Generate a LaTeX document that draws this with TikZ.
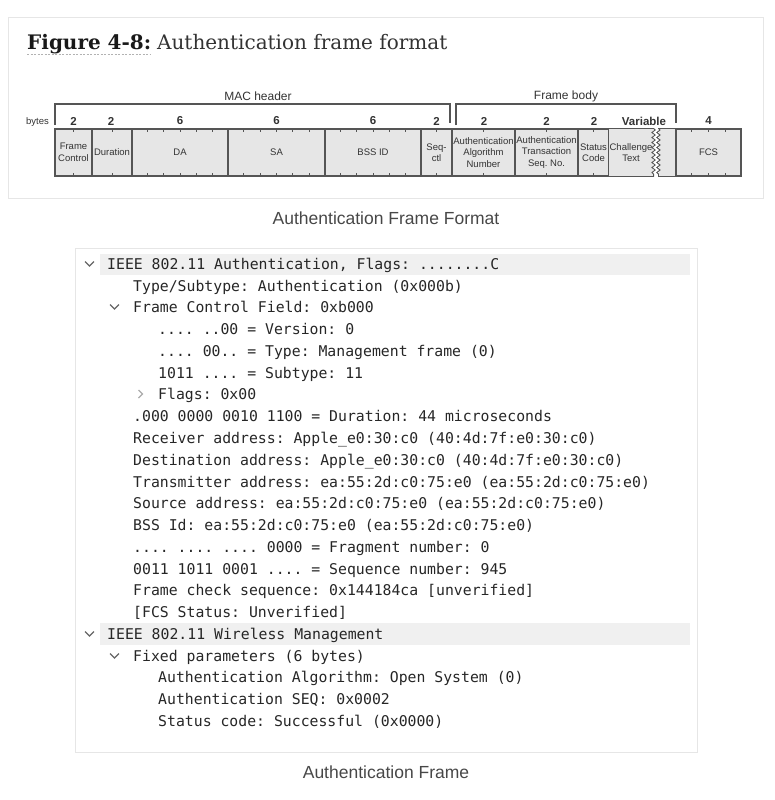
\documentclass[tikz,border=0pt]{standalone}
\usepackage{fontspec}
\usetikzlibrary{positioning,calc,decorations.pathmorphing}
\newfontfamily\figserif{DejaVu Serif}
\newfontfamily\figsans{Liberation Sans}
\newfontfamily\wsmono{DejaVu Sans Mono}
\definecolor{cline}{HTML}{555555}
\definecolor{cfill}{HTML}{E6E6E6}
\definecolor{cpanel}{HTML}{E6E6E6}
\definecolor{cband}{HTML}{F0F0F0}
\definecolor{ctext}{HTML}{333333}
\definecolor{cchev}{HTML}{666666}
\frenchspacing

\begin{document}
\begin{tikzpicture}[x=1pt, y=-1pt,
      fld/.style={draw=cline, fill=cfill, line width=1.1pt, minimum height=47pt, inner sep=0pt, align=center, font=\figsans\fontsize{9.5}{11.5}\selectfont, text=ctext},
      num/.style={font=\figsans\bfseries\fontsize{11.5}{14}\selectfont, text=ctext, inner sep=0pt},
      brk/.style={cline, line width=1.1pt},
      tk/.style={cline, line width=1pt},
      ln/.style={anchor=base west, inner sep=0pt, font=\wsmono\fontsize{14.8}{16}\selectfont, text=black!85},
      chev/.style={cchev, line width=1.1pt},
      captxt/.style={font=\figsans\fontsize{17.5}{20}\selectfont, text=ctext!90}
    ]
    \useasboundingbox (0,0) rectangle (774,800);

    % top panel: frame format
    \draw[cpanel] (8,17) rectangle (763,198);
    \node[anchor=base west, inner sep=0pt, font=\figserif\bfseries\fontsize{20}{24}\selectfont, text=black!90] (fig) at (27,49.5) {Figure 4-8:};
    \node[anchor=base west, inner sep=0pt, font=\figserif\fontsize{20}{24}\selectfont, text=ctext] (ttl) at ($(fig.base east)+(5.5,0)$) {Authentication frame format};
    \draw[gray!60, dash pattern=on 2pt off 1.5pt] ($(fig.base west)+(0,5)$) -- ($(fig.base east)+(0,5)$);

    \node[font=\figsans\fontsize{12}{14}\selectfont, text=ctext] (mac) at (258,96) {MAC header};
    \node[font=\figsans\fontsize{12}{14}\selectfont, text=ctext] (body) at (566,96) {Frame body};
    \draw[brk] (55,125) -- (55,104) -- (450,104) -- (450,123);
    \draw[brk] (456,125) -- (456,104) -- (676,104) -- (676,123);
    \node[font=\figsans\fontsize{9.5}{10}\selectfont, text=ctext] (bytes) at (37.5,122) {bytes};

    \node[fld, minimum width=37pt] (fc) at (73.5,152.5) {Frame\\Control};
    \node[fld, minimum width=40pt] (dur) at (112,152.5) {Duration};
    \node[fld, minimum width=96pt] (da) at (180,152.5) {DA};
    \node[fld, minimum width=97pt] (sa) at (276.5,152.5) {SA};
    \node[fld, minimum width=96pt] (bss) at (373,152.5) {BSS ID};
    \node[fld, minimum width=31pt] (seq) at (436.5,152.5) {Seq-\\ctl};
    \node[fld, minimum width=63pt] (alg) at (483.5,152.5) {Authentication\\Algorithm\\Number};
    \node[fld, minimum width=63pt] (trn) at (546.5,152.5) {Authentication\\Transaction\\Seq. No.};
    \node[fld, minimum width=31pt] (st) at (593.5,152.5) {Status\\Code};
    \node[fld, draw=none, minimum width=44pt] (ch) at (631,152.5) {Challenge\\Text};
    \node[fld, draw=none, minimum width=17pt] (chx) at (667.5,152.5) {};
    \node[fld, minimum width=65pt] (fcs) at (708.5,152.5) {FCS};
    \draw[brk] (ch.north west) -- (ch.north east) (ch.south west) -- (ch.south east);
    \draw[brk] (chx.north west) -- (chx.north east) (chx.south west) -- (chx.south east);
    \draw[cline, line width=0.9pt, decorate, decoration={snake, segment length=5pt, amplitude=1.6pt}] (ch.north east) -- (ch.south east);
    \draw[cline, line width=0.9pt, decorate, decoration={snake, segment length=5pt, amplitude=1.6pt}] (chx.north west) -- (chx.south west);

    % byte ticks
    \foreach \f/\nb in {fc/2, dur/2, da/6, sa/6, bss/6, seq/2, alg/2, trn/2, st/2, fcs/4} {
      \pgfmathtruncatemacro\m{\nb-1}
      \foreach \k in {1,...,\m}
        \draw[tk] ($(\f.north west)!\k/\nb!(\f.north east)$) -- ++(0,4)
                  ($(\f.south west)!\k/\nb!(\f.south east)$) -- ++(0,-4);
    }

    \node[num] (n1) at (73.5,121) {2};
    \node[num] (n2) at (111,121) {2};
    \node[num] (n3) at (180,121) {6};
    \node[num] (n4) at (276.5,121) {6};
    \node[num] (n5) at (373,121) {6};
    \node[num] (n6) at (436.5,121) {2};
    \node[num] (n7) at (484,121) {2};
    \node[num] (n8) at (546.5,121) {2};
    \node[num] (n9) at (594,121) {2};
    \node[num] (n10) at (644,121) {Variable};
    \node[num] (n11) at (708.5,121) {4};

    \node[captxt] (capfmt) at (386,218) {Authentication Frame Format};

    % bottom panel: capture
    \draw[cpanel] (75,248) rectangle (697,752);
    \fill[cband] (100,254) rectangle (690,275);
    \fill[cband] (100,623) rectangle (690,645);

    \draw[chev] (85,261.5) -- (89.5,266) -- (94,261.5);
    \draw[chev] (110,304.5) -- (114.5,309) -- (119,304.5);
    \draw[chev, cchev!55] (138.5,390) -- (142.5,394) -- (138.5,398);
    \draw[chev] (85,631.5) -- (89.5,636) -- (94,631.5);
    \draw[chev] (110,653.5) -- (114.5,658) -- (119,653.5);

    \node[ln] (l1) at (107,269.4) {IEEE 802.11 Authentication, Flags: ........C};
    \node[ln] (l2) at (133,291.4) {Type/Subtype: Authentication (0x000b)};
    \node[ln] (l3) at (133,312.4) {Frame Control Field: 0xb000};
    \node[ln] (l4) at (158,334.4) {.... ..00 = Version: 0};
    \node[ln] (l5) at (158,356.4) {.... 00.. = Type: Management frame (0)};
    \node[ln] (l6) at (158,378.4) {1011 .... = Subtype: 11};
    \node[ln] (l7) at (158,399.4) {Flags: 0x00};
    \node[ln] (l8) at (133,421.4) {.000 0000 0010 1100 = Duration: 44 microseconds};
    \node[ln] (l9) at (133,443.4) {Receiver address: Apple\_e0:30:c0 (40:4d:7f:e0:30:c0)};
    \node[ln] (l10) at (133,465.4) {Destination address: Apple\_e0:30:c0 (40:4d:7f:e0:30:c0)};
    \node[ln] (l11) at (133,487.4) {Transmitter address: ea:55:2d:c0:75:e0 (ea:55:2d:c0:75:e0)};
    \node[ln] (l12) at (133,508.4) {Source address: ea:55:2d:c0:75:e0 (ea:55:2d:c0:75:e0)};
    \node[ln] (l13) at (133,530.4) {BSS Id: ea:55:2d:c0:75:e0 (ea:55:2d:c0:75:e0)};
    \node[ln] (l14) at (133,552.4) {.... .... .... 0000 = Fragment number: 0};
    \node[ln] (l15) at (133,574.4) {0011 1011 0001 .... = Sequence number: 945};
    \node[ln] (l16) at (133,595.4) {Frame check sequence: 0x144184ca [unverified]};
    \node[ln] (l17) at (133,617.4) {[FCS Status: Unverified]};
    \node[ln] (l18) at (107,639.4) {IEEE 802.11 Wireless Management};
    \node[ln] (l19) at (133,661.4) {Fixed parameters (6 bytes)};
    \node[ln] (l20) at (158,682.4) {Authentication Algorithm: Open System (0)};
    \node[ln] (l21) at (158,704.4) {Authentication SEQ: 0x0002};
    \node[ln] (l22) at (158,726.4) {Status code: Successful (0x0000)};

    \node[captxt] (capfrm) at (386,772) {Authentication Frame};
  \end{tikzpicture}
\end{document}
